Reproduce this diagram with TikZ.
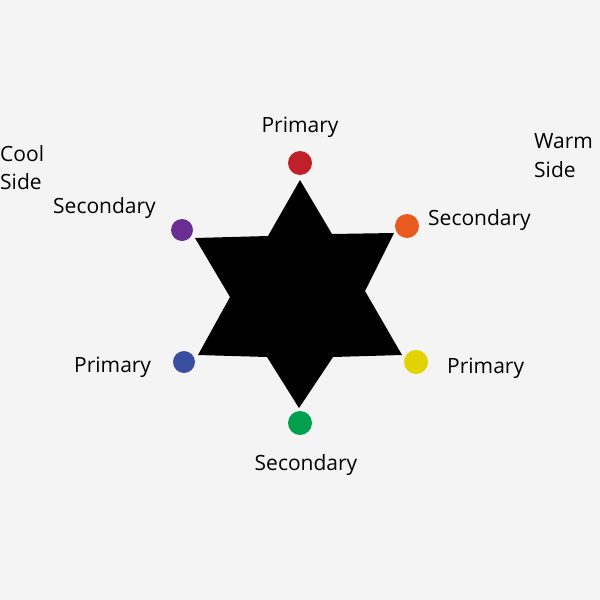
\documentclass[tikz,border=0pt]{standalone}
\usepackage{fontspec}
\setmainfont{Open Sans}
\definecolor{bg}{HTML}{F4F4F4}
\definecolor{cred}{HTML}{C0202A}
\definecolor{corange}{HTML}{E85A1E}
\definecolor{cyellow}{HTML}{E2D200}
\definecolor{cgreen}{HTML}{00A04E}
\definecolor{cblue}{HTML}{3A4EA0}
\definecolor{cpurple}{HTML}{6A2E92}
\begin{document}
\begin{tikzpicture}[x=1pt,y=-1pt,
  dot/.style={circle,inner sep=0pt,minimum size=24pt,fill=#1},
  lbl/.style={inner sep=0pt,font=\fontsize{21}{28}\selectfont,text=black},
  side/.style={lbl,align=left,anchor=base west}]
\fill[bg] (0,0) rectangle (600,600);
\useasboundingbox (0,0) rectangle (600,600);
% star
\fill[black] (300,180) -- (332,234) -- (394,233) -- (365,291) -- (402,355)
  -- (333,357) -- (299,408) -- (267,357) -- (198,355) -- (230,297)
  -- (195,238) -- (268,236) -- cycle;
% dots
\node[dot=cred] (red) at (300,163) {};
\node[dot=corange] (orange) at (407,226) {};
\node[dot=cyellow] (yellow) at (416,362) {};
\node[dot=cgreen] (green) at (300,423) {};
\node[dot=cblue,minimum size=22pt] (blue) at (184,362) {};
\node[dot=cpurple,minimum size=22pt] (purple) at (182,230) {};
% labels
\node[lbl,anchor=base] (lred) at (300,132) {Primary};
\node[lbl,anchor=base west] (lorange) at (428,225) {Secondary};
\node[lbl,anchor=base west] (lyellow) at (447,373) {Primary};
\node[lbl,anchor=base] (lgreen) at (306,470) {Secondary};
\node[lbl,anchor=base west] (lblue) at (74,372) {Primary};
\node[lbl,anchor=base west] (lpurple) at (53,213) {Secondary};
\node[lbl,anchor=base west] (cool) at (0,161) {Cool};
\node[lbl,anchor=base west] (coolside) at (0,189) {Side};
\node[lbl,anchor=base west] (warm) at (534,148) {Warm};
\node[lbl,anchor=base west] (warmside) at (534,177) {Side};
\end{tikzpicture}
\end{document}
